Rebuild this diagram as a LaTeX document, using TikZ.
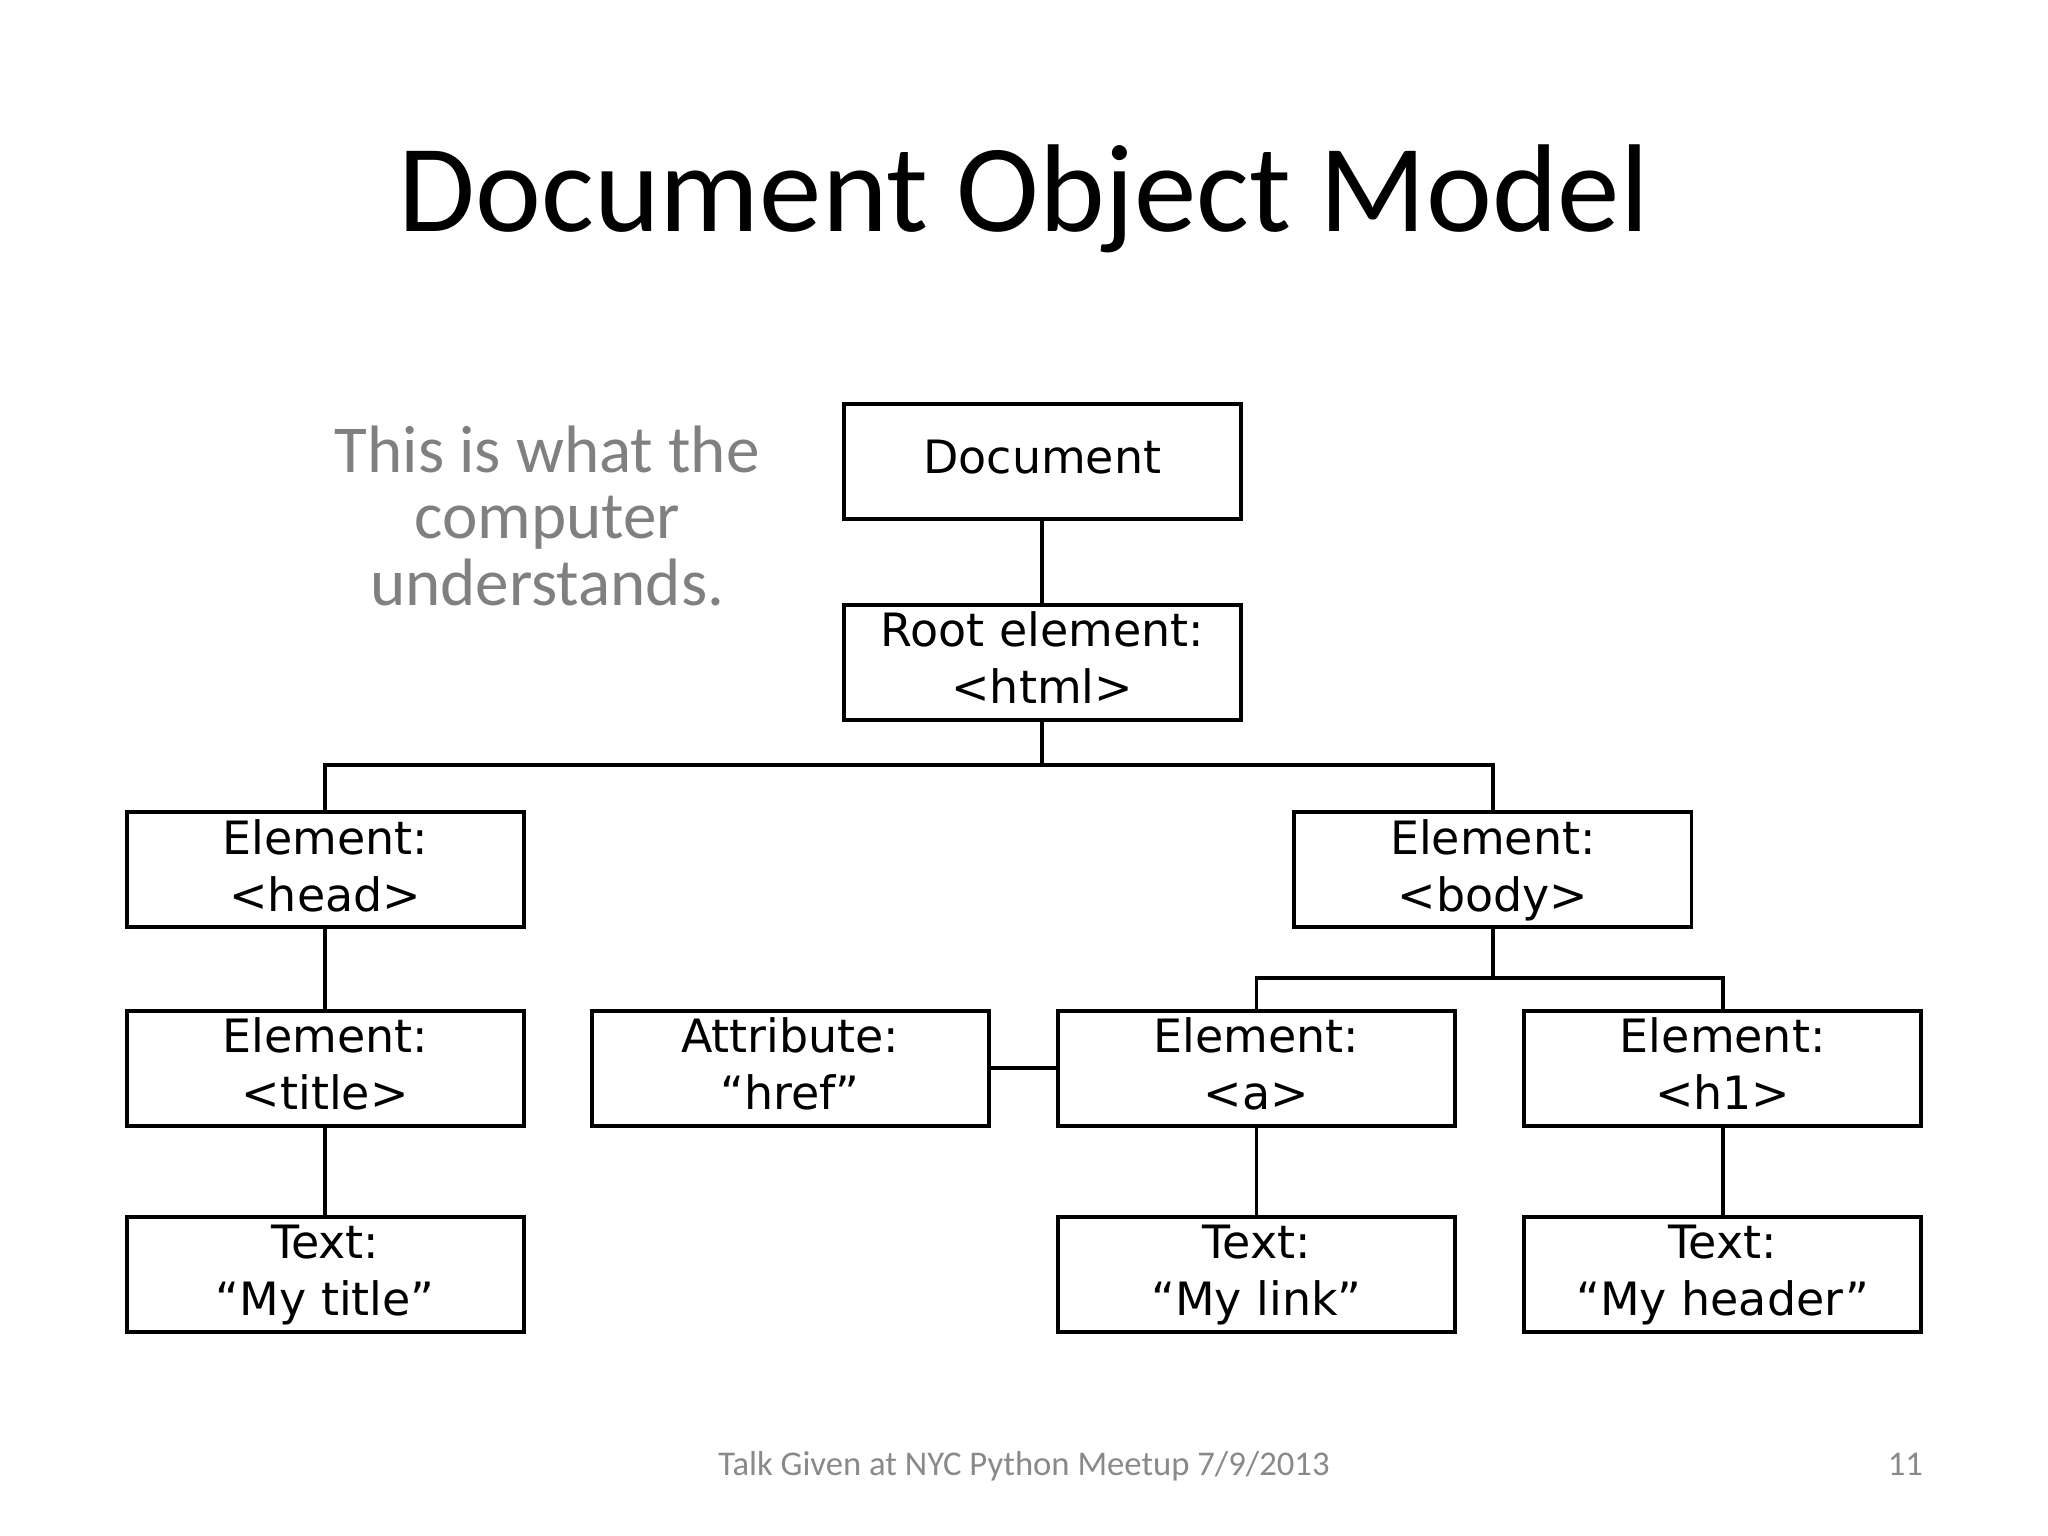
\documentclass[tikz,border=0pt]{standalone}
\usepackage{fontspec}
\setmainfont{Carlito}
\newfontfamily\domfont{DejaVu Sans}
\usetikzlibrary{positioning}
\definecolor{notegray}{RGB}{128,128,128}
\definecolor{footgray}{RGB}{137,137,137}

\begin{document}
\begin{tikzpicture}[x=0.01cm, y=-0.01cm,
    domnode/.style={draw, line width=0.85pt, minimum width=3.04cm, minimum height=0.88cm,
      inner sep=0pt, align=center, font=\domfont\fontsize{10}{12.4}\selectfont,
      execute at end node=\vphantom{y}},
    link/.style={line width=0.85pt}]
  \useasboundingbox (0,0) rectangle (1568,1176);

  % slide texts
  \node[anchor=base, font=\fontsize{27.2}{32}\selectfont] (heading) at (784,177) {Document Object Model};
  \node[inner sep=0pt, align=center, text=notegray, font=\fontsize{14.6}{14.5}\selectfont] (note) at (419,395)
    {This is what the\\computer\\understands.};
  \node[anchor=base, text=footgray, font=\fontsize{7.55}{9}\selectfont] (footer) at (784,1130)
    {Talk Given at NYC Python Meetup 7/9/2013};
  \node[anchor=base east, inner sep=0pt, text=footgray, font=\fontsize{7.55}{9}\selectfont] (pagenum) at (1473,1130) {11};

  % tree
  \node[domnode] (doc) at (798,353) {Document};
  \node[domnode] (root) at (798,507) {Root element:\\<html>};
  \node[domnode] (head) at (249,666) {Element:\\<head>};
  \node[domnode] (body) at (1143,666) {Element:\\<body>};
  \node[domnode] (title) at (249,818) {Element:\\<title>};
  \node[domnode] (href) at (605,818) {Attribute:\\“href”};
  \node[domnode] (a) at (962,818) {Element:\\<a>};
  \node[domnode] (hone) at (1319,818) {Element:\\<h1>};
  \node[domnode] (ttitle) at (249,976) {Text:\\“My title”};
  \node[domnode] (tlink) at (962,976) {Text:\\“My link”};
  \node[domnode] (theader) at (1319,976) {Text:\\“My header”};

  \draw[link] (doc) -- (root);
  \draw[link] (root.south) -- ++(0,33) coordinate (fork) -| (head.north);
  \draw[link] (fork) -| (body.north);
  \draw[link] (head) -- (title);
  \draw[link] (title) -- (ttitle);
  \draw[link] (body.south) -- ++(0,37) coordinate (bfork) -| (a.north);
  \draw[link] (bfork) -| (hone.north);
  \draw[link] (href) -- (a);
  \draw[link] (a) -- (tlink);
  \draw[link] (hone) -- (theader);
\end{tikzpicture}
\end{document}
